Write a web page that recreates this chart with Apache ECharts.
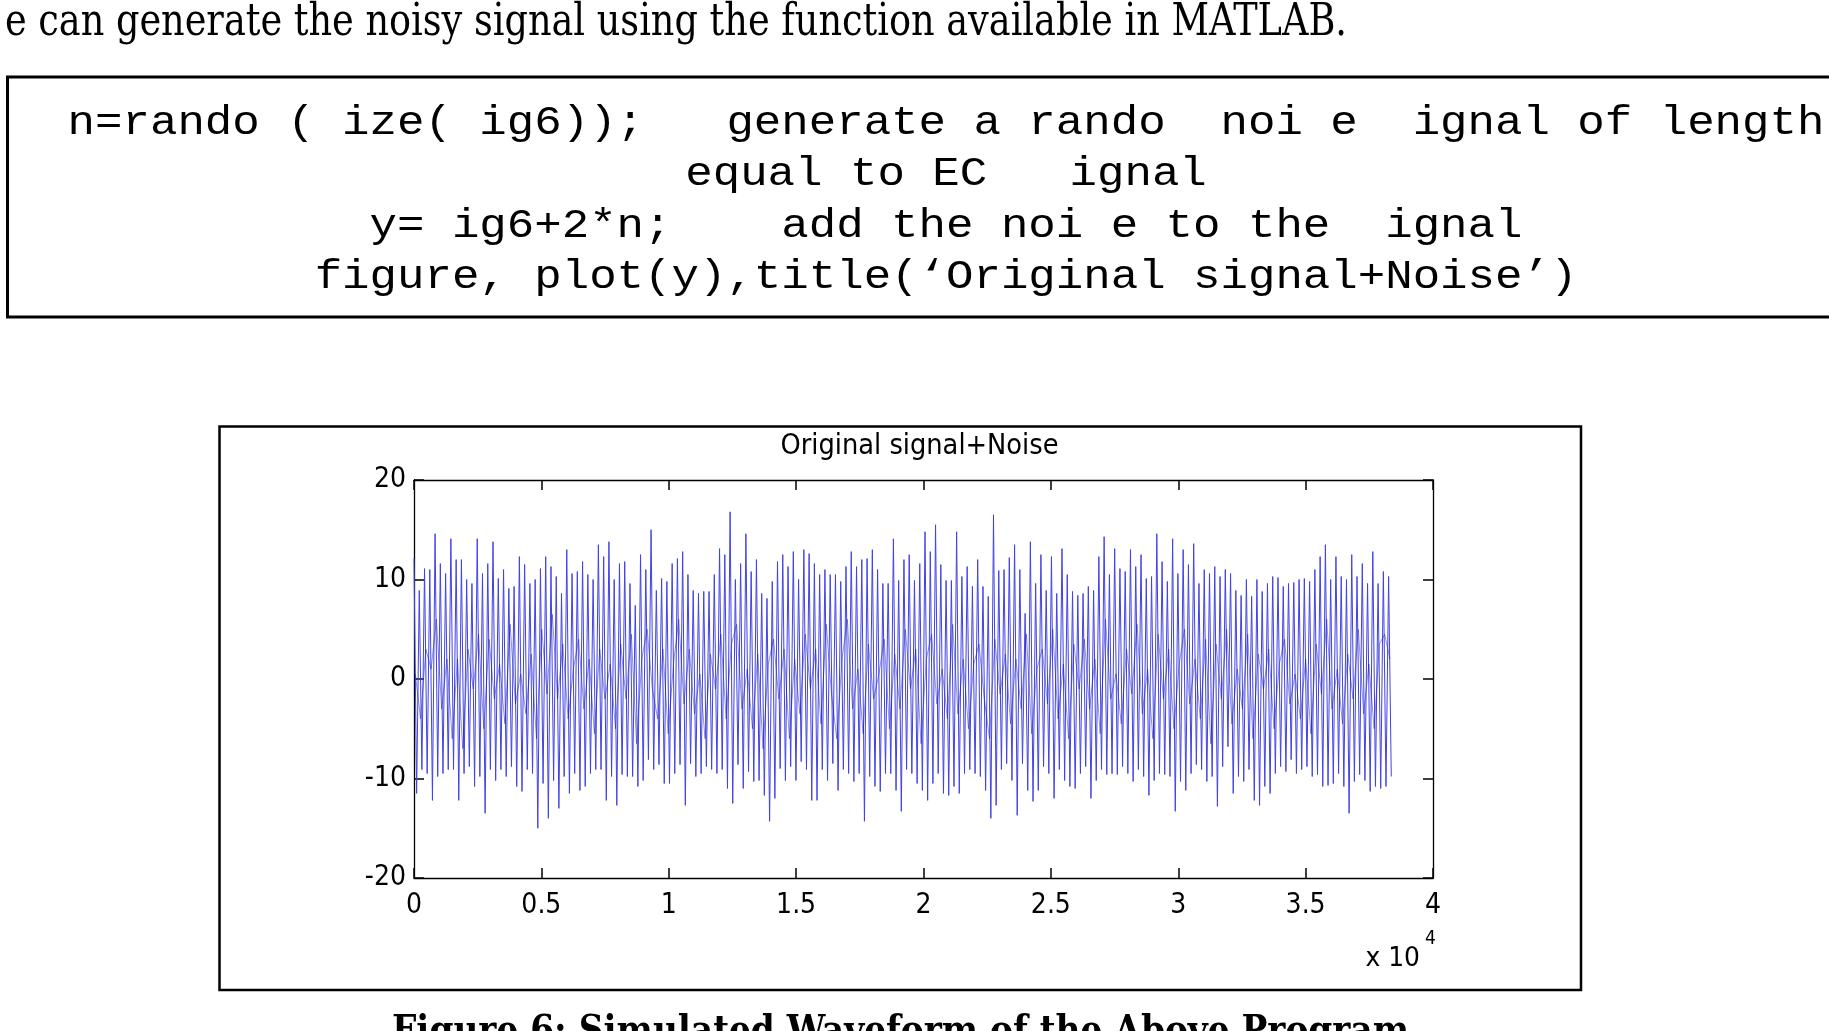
<!DOCTYPE html>
<html>
<head>
<meta charset="utf-8">
<title>Original signal+Noise</title>
<script src="https://cdn.jsdelivr.net/npm/echarts@6/dist/echarts.min.js"></script>
<style>
  html, body { margin: 0; padding: 0; background: #fff; }
  #page { width: 1829px; height: 1031px; }
</style>
</head>
<body>
<div id="page"></div>
<script>
// high / low turning points of y = sig6 + 2*n left to right
const peakHigh = [
  12.1, 8.9, 11.1, 11.0, 14.6, 11.6, 10.6, 14.1, 12.0, 12.0, 10.0, 9.6, 14.1, 10.6, 11.6, 13.8, 10.1, 11.0, 9.1,
  9.3, 12.3, 11.5, 9.6, 10.0, 11.1, 12.3, 11.3, 10.3, 8.6, 13.0, 10.6, 10.8, 11.8, 10.5, 10.0, 13.5, 12.3, 13.8,
  10.0, 11.6, 11.8, 9.6, 7.4, 12.5, 11.0, 15.0, 8.9, 10.1, 9.8, 11.6, 12.1, 12.8, 10.5, 8.9, 8.6, 8.8, 8.8,
  10.5, 13.1, 12.5, 16.8, 10.0, 11.6, 14.6, 10.8, 12.0, 8.6, 8.1, 9.8, 11.8, 12.5, 11.3, 12.8, 10.0, 13.0, 12.6,
  11.6, 10.5, 11.0, 10.5, 10.5, 9.8, 11.3, 12.8, 11.3, 12.0, 12.1, 13.0, 11.0, 9.6, 9.6, 14.1, 9.9, 12.0, 12.5,
  9.9, 11.6, 14.8, 12.8, 15.5, 11.5, 9.9, 9.9, 14.8, 10.3, 11.3, 9.3, 12.0, 9.3, 8.3, 16.5, 10.9, 11.0, 12.2,
  13.5, 11.0, 6.6, 13.8, 9.6, 12.5, 8.9, 12.3, 8.6, 13.1, 10.5, 8.8, 8.4, 8.6, 9.3, 8.9, 12.3, 14.3, 10.5,
  13.1, 11.1, 10.8, 13.0, 11.3, 12.5, 10.1, 10.3, 14.6, 11.8, 9.8, 14.1, 10.6, 13.0, 11.5, 13.6, 9.6, 11.0, 10.6,
  11.3, 10.3, 11.0, 10.6, 8.9, 8.4, 10.0, 8.3, 10.0, 8.8, 9.6, 10.3, 10.2, 9.3, 9.6, 9.7, 10.0, 10.1, 9.8,
  11.0, 12.3, 13.5, 10.0, 12.3, 10.3, 10.0, 12.5, 10.3, 11.6, 9.6, 12.8, 9.6, 10.8, 10.3
]
const peakLow = [
  -11.5, -9.1, -9.5, -12.2, -9.8, -9.5, -9.1, -9.1, -12.2, -9.5, -8.8, -10.8, -9.8, -13.5, -9.1, -10.2, -9.1, -9.8, -8.8,
  -10.8, -11.3, -9.1, -9.5, -15.0, -10.5, -14.0, -10.2, -13.0, -9.8, -11.5, -9.5, -11.2, -10.8, -9.5, -9.1, -9.1, -12.2, -9.8,
  -12.7, -9.6, -9.8, -9.8, -10.8, -10.2, -8.1, -9.1, -8.6, -10.5, -10.5, -9.5, -8.6, -12.7, -8.5, -9.8, -9.5, -8.8, -9.1,
  -9.5, -9.1, -11.0, -12.5, -8.6, -11.0, -9.3, -10.3, -10.2, -11.7, -14.3, -12.0, -9.0, -10.2, -8.8, -10.2, -8.3, -9.1, -12.2,
  -12.2, -9.1, -10.2, -8.5, -11.2, -9.1, -9.5, -10.3, -9.5, -14.3, -9.8, -10.8, -11.3, -9.5, -9.5, -11.2, -13.3, -9.1, -9.5,
  -10.5, -11.2, -12.2, -10.5, -9.5, -11.5, -11.7, -10.8, -11.5, -9.5, -9.1, -9.5, -9.8, -11.2, -14.0, -12.7, -9.1, -8.5, -10.2,
  -13.7, -8.5, -11.2, -12.3, -11.2, -8.8, -9.5, -12.0, -9.1, -10.2, -10.8, -11.0, -9.5, -8.8, -12.0, -10.2, -9.1, -9.6, -9.5,
  -9.6, -8.8, -9.5, -10.3, -9.1, -9.8, -11.7, -10.2, -9.5, -9.6, -9.8, -13.3, -10.3, -11.2, -9.5, -8.6, -9.1, -10.3, -9.8,
  -12.8, -8.8, -6.8, -11.5, -9.8, -10.3, -9.1, -12.2, -12.7, -10.8, -11.5, -9.5, -8.8, -9.3, -8.1, -9.5, -9.1, -8.8, -9.8,
  -9.6, -10.8, -10.7, -10.5, -9.5, -10.8, -13.5, -10.3, -9.6, -10.2, -11.3, -10.8, -11.0, -10.8, -9.8
]
// darker slow wander through the middle of the band
const coreTrace = [
  0.5, -4.0, 3.0, 1.0, 6.0, -3.0, 2.0, -6.0, 2.0, -7.0, 3.0, -1.0, 4.5, -5.0, 4.0, -2.0, 1.5, -4.5, 5.5,
  -2.5, 0.5, -3.5, 2.5, -6.0, 5.0, -1.5, 6.5, -2.0, 3.5, -4.0, 1.0, 4.0, -3.0, 2.0, -5.5, 3.0, -2.0, 1.5,
  -5.0, 3.5, -2.0, 4.5, -6.5, 2.0, 5.0, -1.0, -4.0, 3.0, -5.5, 1.5, 6.0, -2.5, 3.0, -3.5, 0.5, -6.0, 2.5,
  -1.0, 4.5, -4.0, 3.5, 5.5, -3.0, 1.0, -5.0, 2.5, -7.0, 1.5, 4.0, -2.0, 3.0, -6.0, 2.0, -3.5, 4.5, -1.0,
  3.0, -4.5, 5.5, -1.5, -6.0, 2.0, 6.0, -3.0, 1.0, -5.5, 3.5, -2.0, 0.5, 4.0, -5.0, 2.5, -3.0, 5.0, -1.0,
  3.0, -6.5, 2.0, 4.5, -2.5, 1.0, -4.0, 5.5, -3.5, 2.0, -5.0, 1.5, 3.5, -2.0, -6.0, 4.0, -1.5, 2.5, -4.5,
  2.0, -3.0, 4.5, -5.5, 1.0, 3.0, -2.5, 5.0, -4.0, 1.5, -6.0, 3.5, -1.0, 4.0, -3.0, 2.0, -5.5, 6.0, -2.0,
  0.5, -4.5, 3.0, -1.5, 5.5, -3.5, 1.0, -6.0, 4.5, -2.0, 3.0, -5.0, 1.5, 5.0, -2.5, 2.0, -4.0, 4.0, -6.5,
  3.5, -2.0, 5.0, -4.5, 1.0, -3.0, 4.5, -6.0, 2.5, -1.0, 3.0, -5.0, 1.5, 4.0, -2.5, 0.5, -4.0, 2.0, -5.5,
  3.5, -1.5, 6.0, -3.0, 1.0, -4.5, 2.5, -2.0, 5.0, -3.5, 1.5, -5.0, 3.5, 4.5, 2.0
]
// samples between two neighbouring turning points
const sampleStep = 103.4

const xTickLabels = ['0', '0.5', '1', '1.5', '2', '2.5', '3', '3.5', '4']
const yTickLabels = ['-20', '-10', '0', '10', '20']

const introText = 'e can generate the noisy signal using the function available in MATLAB.'
const codeLines = [
  'n=rando ( ize( ig6));   generate a rando  noi e  ignal of length',
  'equal to EC   ignal',
  'y= ig6+2*n;    add the noi e to the  ignal',
  'figure, plot(y),title(\u2018Original signal+Noise\u2019)'
]
const plotTitle = 'Original signal+Noise'
const captionText = 'Figure 6: Simulated Waveform of the Above Program'

const sansFont = '"DejaVu Sans Condensed", "DejaVu Sans", sans-serif'
const serifFont = '"DejaVu Serif Condensed", "DejaVu Serif", serif'
const monoFont = '"Liberation Mono", "DejaVu Sans Mono", monospace'

const measureCtx = document.createElement('canvas').getContext('2d')
//horizontal scale so a text line fills the width it has in the scan
const fitScale = function (text, font, width) {
  measureCtx.font = font
  return width / measureCtx.measureText(text).width
}

const textEl = function (text, x, y, size, family, width, opts) {
  opts = opts || {}
  const weight = opts.weight || 'normal'
  return {
    type: 'text',
    x: x,
    y: y,
    scaleX: width ? fitScale(text, weight + ' ' + size + 'px ' + family, width) : 1,
    silent: true,
    style: {
      text: text,
      x: 0,
      y: 0,
      fontSize: size,
      fontFamily: family,
      fontWeight: weight,
      fill: '#000',
      align: opts.align || 'left',
      verticalAlign: 'middle'
    }
  }
}

const signal = []
peakHigh.forEach((hi, i) => {
  signal.push([2 * i * sampleStep, hi])
  if (peakLow[i] !== undefined) signal.push([(2 * i + 1) * sampleStep, peakLow[i]])
})
const core = coreTrace.map((v, i) => [(2 * i + 0.5) * sampleStep, v])

const codeCell = 27.45
const graphics = [
  textEl(introText, 5, 24, 44, serifFont, 1342),
  {
    type: 'rect', silent: true,
    shape: {x: 7.5, y: 77, width: 1900, height: 240},
    style: {fill: 'none', stroke: '#000', lineWidth: 3}
  },
  {
    type: 'rect', silent: true,
    shape: {x: 219.5, y: 426.5, width: 1361.5, height: 563.5},
    style: {fill: 'none', stroke: '#000', lineWidth: 2.5}
  },
  textEl(plotTitle, 919.5, 447, 28, sansFont, 278, {align: 'center'}),
  textEl('x 10', 1365.5, 959, 27, sansFont, 54.5),
  textEl('4', 1425, 939, 19, sansFont),
  textEl(captionText, 900.5, 1033, 40, serifFont, 1017, {align: 'center', weight: 'bold'})
]
codeLines.forEach((line, i) => {
  graphics.push(textEl(line, 946, 123.5 + i * 51.3, 40, monoFont, line.length * codeCell, {align: 'center'}))
})

const tickLabelStyle = {
  color: '#000',
  fontFamily: sansFont,
  fontSize: 28
}

const chart = echarts.init(document.getElementById('page'), null, {renderer: 'canvas'})
chart.setOption({
  animation: false,
  backgroundColor: '#fff',
  grid: {
    left: 414,
    top: 480,
    width: 1019,
    height: 398,
    outerBoundsMode: 'none'
  },
  xAxis: [
    {
      type: 'value',
      position: 'bottom',
      min: 0,
      max: 40000,
      interval: 5000,
      axisLine: {show: true, onZero: false, lineStyle: {color: '#000', width: 1.3}},
      axisTick: {show: true, inside: true, length: 10, lineStyle: {color: '#000', width: 1.5}},
      axisLabel: {
        ...tickLabelStyle,
        margin: 14,
        formatter: (v) => xTickLabels[Math.round(v / 5000)]
      },
      splitLine: {show: false}
    },
    {
      type: 'value',
      position: 'top',
      min: 0,
      max: 40000,
      interval: 5000,
      axisLine: {show: true, onZero: false, lineStyle: {color: '#000', width: 1.3}},
      axisTick: {show: true, inside: true, length: 10, lineStyle: {color: '#000', width: 1.5}},
      axisLabel: {show: false},
      splitLine: {show: false}
    }
  ],
  yAxis: [
    {
      type: 'value',
      position: 'left',
      min: -20,
      max: 20,
      interval: 10,
      axisLine: {show: true, onZero: false, lineStyle: {color: '#000', width: 1.3}},
      axisTick: {show: true, inside: true, length: 10, lineStyle: {color: '#000', width: 1.5}},
      axisLabel: {
        ...tickLabelStyle,
        margin: 8,
        formatter: (v) => yTickLabels[Math.round((v + 20) / 10)]
      },
      splitLine: {show: false}
    },
    {
      type: 'value',
      position: 'right',
      min: -20,
      max: 20,
      interval: 10,
      axisLine: {show: true, onZero: false, lineStyle: {color: '#000', width: 1.3}},
      axisTick: {show: true, inside: true, length: 10, lineStyle: {color: '#000', width: 1.5}},
      axisLabel: {show: false},
      splitLine: {show: false}
    }
  ],
  series: [
    {
      name: plotTitle,
      type: 'line',
      xAxisIndex: 0,
      yAxisIndex: 0,
      data: signal,
      symbol: 'none',
      silent: true,
      lineStyle: {color: '#4242e6', width: 1.0}
    },
    {
      name: 'core',
      type: 'line',
      xAxisIndex: 0,
      yAxisIndex: 0,
      data: core,
      symbol: 'none',
      silent: true,
      lineStyle: {color: '#1a1ab4', width: 0.8, opacity: 0.6}
    }
  ],
  graphic: graphics
})
</script>
</body>
</html>
